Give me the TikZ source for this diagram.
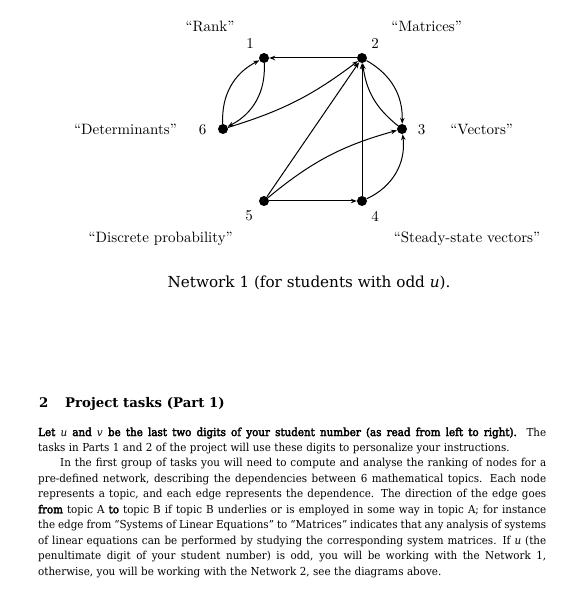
\documentclass[tikz,border=0pt]{standalone}
\usepackage{graphicx}
\usepackage{fontspec}
\newfontfamily\headfont{DejaVu Serif}
\newfontfamily\bodyfont[FakeStretch=0.94]{DejaVu Serif}
\newfontfamily\leadfont[FakeStretch=0.94,FakeBold=3]{DejaVu Serif}
\newcommand{\bodyline}[1]{\makebox[\linewidth][s]{#1}\par}
\newcommand{\lastline}[1]{\makebox[\linewidth][l]{#1}\par}
\usetikzlibrary{arrows.meta}

\begin{document}
\begin{tikzpicture}[x=1pt,y=-1pt]
\useasboundingbox (0,0) rectangle (576,593);

\foreach \i/\x/\y in {1/264/58,2/362/58,3/402/129,4/362/201,5/264/201,6/223/129}
{
        \node[circle,fill=black,inner sep=0pt,minimum size=10] (v\i) at (\x,\y) {};
}

\foreach \i/\x/\y in {1/250/48.3,2/375/48.3,3/421.7/135,4/375/221.7,5/249/220.7,6/202.7/135}
{
        \node[anchor=base,inner sep=0pt] (n\i) at (\x,\y) {\scalebox{1.5}{\i}};
}

\foreach \i/\x/\y/\topic in {1/210/31.5/Rank,2/426.7/31.5/Matrices,3/481.7/135/Vectors,
        4/467/242.3/Steady-state vectors,5/160.7/242.3/Discrete probability,6/125.5/135/Determinants}
{
        \node[anchor=base,inner sep=0pt] (t\i) at (\x,\y) {\scalebox{1.5}{“\topic”}};
}

% edges between topics
\draw[line width=1pt,-{Stealth[length=6pt,width=4.5pt]}]
(v2) edge (v1)
(v6) edge[bend left=33] (v1)
(v1) edge[bend left=33] (v6)
(v6) edge[bend right=10] (v2)
(v5) edge (v2)
(v5) edge (v4)
(v4) edge (v2)
(v2) edge[bend left=31] (v3)
(v3) edge[bend left=22] (v2)
(v5) edge[bend left=12] (v3)
(v4) edge[bend right=36] (v3);

\node[anchor=base,inner sep=0pt,font=\headfont\fontsize{15.2}{18}\selectfont] (caption) at (309,287)
        {Network 1 (for students with odd \textit{u}).};

\node[anchor=base west,inner sep=0pt,font=\headfont\bfseries\fontsize{13.3}{16}\selectfont] (section) at (39,407)
        {\makebox[26pt][l]{2}Project tasks (Part 1)};

\node[anchor=base west,inner sep=0pt] (body) at (38,436) {\parbox[t]{508pt}{\bodyfont\fontsize{11}{15.45}\selectfont
\spaceskip=0.318em plus 0.3em minus 0.11em
\bodyline{{\leadfont Let {\bodyfont\itshape u} and {\bodyfont\itshape v} be the last two digits of your student number (as read from left to right).} The}
\lastline{tasks in Parts 1 and 2 of the project will use these digits to personalize your instructions.}
\bodyline{\hspace*{22pt}In the first group of tasks you will need to compute and analyse the ranking of nodes for a}
\bodyline{pre-defined network, describing the dependencies between 6 mathematical topics. Each node}
\bodyline{represents a topic, and each edge represents the dependence. The direction of the edge goes}
\bodyline{{\leadfont from} topic A {\leadfont to} topic B if topic B underlies or is employed in some way in topic A; for instance}
\bodyline{the edge from “Systems of Linear Equations” to “Matrices” indicates that any analysis of systems}
\bodyline{of linear equations can be performed by studying the corresponding system matrices. If \textit{u} (the}
\bodyline{penultimate digit of your student number) is odd, you will be working with the Network 1,}
\lastline{otherwise, you will be working with the Network 2, see the diagrams above.}}};
\end{tikzpicture}
\end{document}
